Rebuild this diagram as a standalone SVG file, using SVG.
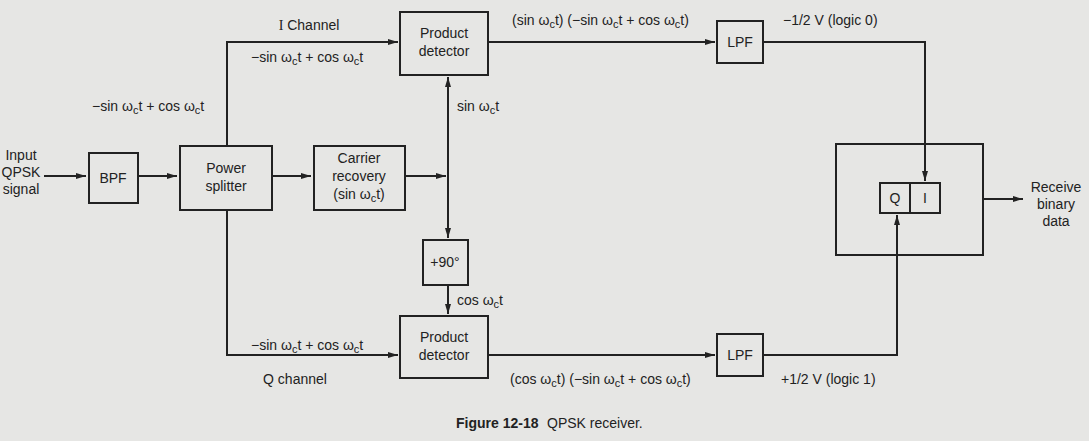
<svg xmlns="http://www.w3.org/2000/svg" width="1089" height="441" viewBox="0 0 1089 441">
<defs>
<marker id="a" viewBox="0 0 10 6" refX="10" refY="3" markerWidth="10" markerHeight="6" markerUnits="userSpaceOnUse" orient="auto"><path d="M0,0 L10,3 L0,6 Z" fill="#222"/></marker>
<style>
.b{fill:none;stroke:#222;stroke-width:2}
.c{fill:none;stroke:#222;stroke-width:2;marker-end:url(#a)}
text{font-family:"Liberation Sans",Arial,sans-serif;font-size:14px;fill:#222}
.m{text-anchor:middle}
</style>
</defs>
<rect width="1089" height="441" fill="#e6e6e4"/>
<g id="connectors">
<path class="c" d="M44,176 H86"/>
<path class="c" d="M138,176 H177"/>
<path class="c" d="M272,176 H311"/>
<path class="c" d="M405,176 H446"/>
<path class="c" d="M227,146 V42 H398"/>
<path class="c" d="M227,210 V355 H398"/>
<path class="c" d="M448,176 V77"/>
<path class="c" d="M448,176 V238"/>
<path class="c" d="M448,285 V314"/>
<path class="c" d="M488,42 H715"/>
<path class="c" d="M488,355 H715"/>
<path class="c" d="M763,42 H925 V181"/>
<path class="c" d="M763,355 H897 V215"/>
<path class="c" d="M983,199 H1023"/>
</g>
<g id="bpf"><rect class="b" x="89" y="153" width="49" height="50"/><text class="m" x="113" y="183">BPF</text></g>
<g id="splitter"><rect class="b" x="180" y="146" width="92" height="64"/><text class="m" x="226" y="173">Power</text><text class="m" x="226" y="191">splitter</text></g>
<g id="carrier"><rect class="b" x="314" y="146" width="91" height="64"/><text class="m" x="359" y="163">Carrier</text><text class="m" x="359" y="181">recovery</text><text class="m" x="359" y="199">(sin ω<tspan font-size="11" dy="3">c</tspan><tspan dy="-3">t)</tspan></text></g>
<g id="pd-top"><rect class="b" x="400" y="12" width="88" height="63"/><text class="m" x="444" y="38">Product</text><text class="m" x="444" y="56">detector</text></g>
<g id="shift"><rect class="b" x="423" y="240" width="45" height="45"/><text class="m" x="445" y="267">+90°</text></g>
<g id="pd-bot"><rect class="b" x="400" y="316" width="88" height="62"/><text class="m" x="444" y="342">Product</text><text class="m" x="444" y="360">detector</text></g>
<g id="lpf-top"><rect class="b" x="717" y="21" width="46" height="42"/><text class="m" x="740" y="47">LPF</text></g>
<g id="lpf-bot"><rect class="b" x="717" y="334" width="46" height="42"/><text class="m" x="740" y="360">LPF</text></g>
<g id="logic"><rect class="b" x="836" y="144" width="147" height="111"/><rect class="b" x="880" y="183" width="60" height="30"/><path class="b" d="M910,183 V213"/><text class="m" x="895" y="203">Q</text><text class="m" x="925" y="203" font-family="Liberation Serif">I</text></g>
<g id="labels">
<text class="m" x="21" y="160">Input</text><text class="m" x="21" y="177">QPSK</text><text class="m" x="21" y="194">signal</text>
<text class="m" x="1056" y="192">Receive</text><text class="m" x="1056" y="209">binary</text><text class="m" x="1056" y="226">data</text>
<text class="m" x="309" y="30"><tspan font-family="Liberation Serif">I</tspan> Channel</text>
<text x="251" y="62">−sin ω<tspan font-size="11" dy="3">c</tspan><tspan dy="-3">t + cos ω</tspan><tspan font-size="11" dy="3">c</tspan><tspan dy="-3">t</tspan></text>
<text x="92" y="111">−sin ω<tspan font-size="11" dy="3">c</tspan><tspan dy="-3">t + cos ω</tspan><tspan font-size="11" dy="3">c</tspan><tspan dy="-3">t</tspan></text>
<text x="457" y="111">sin ω<tspan font-size="11" dy="3">c</tspan><tspan dy="-3">t</tspan></text>
<text x="457" y="305">cos ω<tspan font-size="11" dy="3">c</tspan><tspan dy="-3">t</tspan></text>
<text x="251" y="350">−sin ω<tspan font-size="11" dy="3">c</tspan><tspan dy="-3">t + cos ω</tspan><tspan font-size="11" dy="3">c</tspan><tspan dy="-3">t</tspan></text>
<text class="m" x="295" y="384">Q channel</text>
<text x="512" y="25">(sin ω<tspan font-size="11" dy="3">c</tspan><tspan dy="-3">t) (−sin ω</tspan><tspan font-size="11" dy="3">c</tspan><tspan dy="-3">t + cos ω</tspan><tspan font-size="11" dy="3">c</tspan><tspan dy="-3">t)</tspan></text>
<text x="510" y="384">(cos ω<tspan font-size="11" dy="3">c</tspan><tspan dy="-3">t) (−sin ω</tspan><tspan font-size="11" dy="3">c</tspan><tspan dy="-3">t + cos ω</tspan><tspan font-size="11" dy="3">c</tspan><tspan dy="-3">t)</tspan></text>
<text x="783" y="25">−1/2 V (logic 0)</text>
<text x="781" y="384">+1/2 V (logic 1)</text>
<text x="456" y="428" font-size="13" font-weight="bold">Figure 12-18</text>
<text x="547" y="428" font-size="13">QPSK receiver.</text>
</g>
</svg>
